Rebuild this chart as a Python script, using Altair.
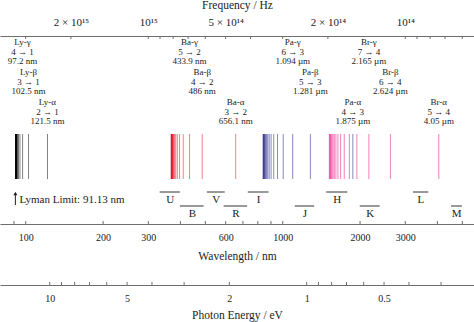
import altair as alt
import pandas as pd

FONT = "Liberation Serif"
TEXT = "#222222"
AXIS = "#6e6e6e"

# ---------------- data ----------------
WL_DOMAIN = [79.4, 5552]          # nm, shown range of the log axis

series_names = ["Lyman", "Balmer", "Paschen", "Brackett"]
series_colors = ["#000000", "#e3001b", "#14147e", "#e5007d"]

lyman_wl = [121.51, 102.52, 97.21, 94.93, 93.73, 93.03, 92.58, 92.27, 92.05, 91.89,
            91.77, 91.67, 91.60, 91.54, 91.49, 91.45, 91.41, 91.38, 91.36]
balmer_wl = [656.1, 486.03, 433.95, 410.09, 396.92, 388.82, 383.46, 379.71, 376.98, 374.93,
             373.36, 372.12, 371.12, 370.31, 369.64, 369.08, 368.60, 368.20]
paschen_wl = [1874.7, 1281.5, 1093.6, 1004.7, 954.4, 922.7, 901.3, 886.1, 874.8, 866.3,
              859.6, 854.3, 850.1, 846.5, 843.6, 841.1, 839.0]
brackett_wl = [4050.2, 2624.5, 2165.0, 1944.1, 1817.0, 1735.8, 1680.3, 1640.3, 1610.5,
               1587.7, 1569.7, 1555.3, 1543.5, 1533.8, 1525.7, 1518.8]

label_wl = [97.2, 102.5, 121.5, 433.9, 486.0, 656.1, 1094, 1281, 1875, 2165, 2624, 4050]
label_name = ["Ly-γ", "Ly-β", "Ly-α", "Ba-γ", "Ba-β", "Ba-α",
              "Pa-γ", "Pa-β", "Pa-α", "Br-γ", "Br-β", "Br-α"]
label_trans = ["4 → 1", "3 → 1", "2 → 1", "5 → 2", "4 → 2", "3 → 2",
               "6 → 3", "5 → 3", "4 → 3", "7 → 4", "6 → 4", "5 → 4"]
label_value = ["97.2 nm", "102.5 nm", "121.5 nm", "433.9 nm", "486 nm", "656.1 nm",
               "1.094 µm", "1.281 µm", "1.875 µm", "2.165 µm", "2.624 µm", "4.05 µm"]
label_level = [0, 1, 2, 0, 1, 2, 0, 1, 2, 0, 1, 2]

band_name = ["U", "B", "V", "R", "I", "J", "H", "K", "L", "M"]
band_center = [365, 445, 551, 658, 806, 1220, 1630, 2190, 3450, 4750]
band_fwhm = [66, 94, 88, 138, 149, 213, 307, 390, 472, 460]
band_row = [0, 1, 0, 1, 0, 1, 0, 1, 0, 1]

lyman_limit = 91.13

wl_tick_values = [90, 100, 200, 300, 400, 500, 600, 700, 800, 900, 1000, 2000, 3000, 4000, 5000]
wl_label_values = [100, 200, 300, 600, 1000, 2000, 3000]

freq_tick_values = [3e15, 2e15, 1e15, 9e14, 8e14, 7e14, 6e14, 5e14, 4e14, 3e14, 2e14,
                    1e14, 9e13, 8e13, 7e13, 6e13]
freq_label_values = [2e15, 1e15, 5e14, 2e14, 1e14]
freq_label_text = ["2 × 10¹⁵", "10¹⁵", "5 × 10¹⁴", "2 × 10¹⁴", "10¹⁴"]

energy_tick_values = [10, 9, 8, 7, 6, 5, 4, 3, 2, 1, 0.9, 0.8, 0.7, 0.6, 0.5, 0.4, 0.3]
energy_label_values = [10, 5, 2, 1, 0.5]

C_NM = 2.99792458e17   # speed of light, nm/s
HC = 1239.84           # eV nm

# ---------------- tables ----------------
lines_df = pd.DataFrame({
    "wl": lyman_wl + balmer_wl + paschen_wl + brackett_wl,
    "series": (["Lyman"] * len(lyman_wl) + ["Balmer"] * len(balmer_wl)
               + ["Paschen"] * len(paschen_wl) + ["Brackett"] * len(brackett_wl)),
})
labels_df = pd.DataFrame({"wl": label_wl, "name": label_name, "trans": label_trans,
                          "value": label_value, "level": label_level})
bands_df = pd.DataFrame({"name": band_name, "center": band_center,
                         "fwhm": band_fwhm, "row": band_row})
wl_ticks_df = pd.DataFrame({"wl": wl_tick_values})
freq_ticks_df = pd.DataFrame({"wl": [C_NM / f for f in freq_tick_values]})
energy_ticks_df = pd.DataFrame({"wl": [HC / e for e in energy_tick_values]})
limit_df = pd.DataFrame({"wl": [lyman_limit], "text": ["Lyman Limit: 91.13 nm"]})

xscale = alt.Scale(type="log", domain=WL_DOMAIN, nice=False, zero=False)

common_axis = dict(ticks=False, tickSize=0, grid=False, domainColor=AXIS, domainWidth=1,
                   labelFont=FONT, labelColor=TEXT,
                   labelBaseline="middle", labelFlush=False, labelOverlap=False,
                   titleFont=FONT, titleFontSize=11.5, titleFontWeight="normal",
                   titleColor=TEXT, titleBaseline="middle")

freq_expr = ""
for f, t in zip(freq_label_values, freq_label_text):
    w = C_NM / f
    freq_expr += f"abs(datum.value - {w:.4f}) < {w * 0.01:.4f} ? '{t}' : "
freq_expr += "''"

# wavelength axis (bottom) with inward ticks
wl_layer = alt.Chart(wl_ticks_df).mark_rule(color=AXIS, strokeWidth=1).encode(
    x=alt.X("wl:Q", scale=xscale,
            axis=alt.Axis(orient="bottom", values=wl_label_values, format="d",
                          labelFontSize=10, labelPadding=13.5,
                          title="Wavelength / nm", titleY=32, **common_axis)),
    y=alt.value(185), y2=alt.value(188))

# frequency axis (top)
freq_layer = alt.Chart(freq_ticks_df).mark_rule(color=AXIS, strokeWidth=1).encode(
    x=alt.X("wl:Q", scale=xscale,
            axis=alt.Axis(orient="top", values=[C_NM / f for f in freq_label_values],
                          labelExpr=freq_expr, labelFontSize=11, labelPadding=14,
                          title="Frequency / Hz", titleY=-31, **common_axis)),
    y=alt.value(0), y2=alt.value(3))

# photon energy axis (lower bottom)
energy_layer = alt.Chart(energy_ticks_df).mark_rule(color=AXIS, strokeWidth=1).encode(
    x=alt.X("wl:Q", scale=xscale,
            axis=alt.Axis(orient="bottom", offset=61,
                          values=[HC / e for e in energy_label_values],
                          labelExpr=f"format(round(10*{HC}/datum.value)/10, '~g')",
                          labelFontSize=10, labelPadding=13.3,
                          title="Photon Energy / eV", titleY=30, **common_axis)),
    y=alt.value(246), y2=alt.value(249))

# spectral lines
spec_layer = alt.Chart(lines_df).mark_rule(strokeWidth=1, opacity=0.5).encode(
    x=alt.X("wl:Q", scale=xscale, axis=None),
    color=alt.Color("series:N", scale=alt.Scale(domain=series_names, range=series_colors),
                    legend=None),
    y=alt.value(98), y2=alt.value(143))

# line labels: three text rows per line
yrow = alt.Y("level:Q", scale=alt.Scale(domain=[0, 2], range=[6, 66]), axis=None)
lab_base = alt.Chart(labels_df).encode(x=alt.X("wl:Q", scale=xscale, axis=None), y=yrow)
lab_name = lab_base.mark_text(font=FONT, fontSize=9, color=TEXT, baseline="middle").encode(text="name:N")
lab_trans = lab_base.mark_text(font=FONT, fontSize=9, color=TEXT, baseline="middle", dy=10).encode(text="trans:N")
lab_val = lab_base.mark_text(font=FONT, fontSize=9, color=TEXT, baseline="middle", dy=19.3).encode(text="value:N")
labels_layer = alt.layer(lab_name, lab_trans, lab_val)

# photometric bands
band_base = alt.Chart(bands_df).transform_calculate(
    lo="datum.center - datum.fwhm / 2", hi="datum.center + datum.fwhm / 2")
yband = alt.Y("row:Q", scale=alt.Scale(domain=[0, 1], range=[156, 170]), axis=None)
band_bars = band_base.mark_rule(color="#333333", strokeWidth=1).encode(
    x=alt.X("lo:Q", scale=xscale, axis=None), x2="hi:Q", y=yband)
band_text = band_base.mark_text(font=FONT, fontSize=11, color=TEXT, baseline="middle", dy=8).encode(
    x=alt.X("center:Q", scale=xscale, axis=None), y=yband, text="name:N")
bands_layer = alt.layer(band_bars, band_text)

# Lyman limit arrow
limit_base = alt.Chart(limit_df).encode(x=alt.X("wl:Q", scale=xscale, axis=None))
limit_shaft = limit_base.mark_rule(color="#222222", strokeWidth=1).encode(y=alt.value(159), y2=alt.value(169))
limit_head = limit_base.mark_point(shape="triangle-up", filled=True, size=16, color="#222222", opacity=1).encode(y=alt.value(157.5))
limit_text = limit_base.mark_text(font=FONT, fontSize=11, color=TEXT, align="left", baseline="middle", dx=4).encode(
    y=alt.value(164), text="text:N")

chart = alt.layer(
    wl_layer, freq_layer, energy_layer, spec_layer,
    labels_layer, bands_layer,
    limit_shaft, limit_head, limit_text,
).resolve_axis(x="independent").resolve_scale(y="independent").properties(
    width=474, height=188,
    padding={"left": 0, "right": 0, "top": 36, "bottom": 98},
    autosize=alt.AutoSizeParams(type="none"),
).configure_view(stroke=None)

chart.save("out.html", embed_options={"renderer": "svg", "actions": False})
